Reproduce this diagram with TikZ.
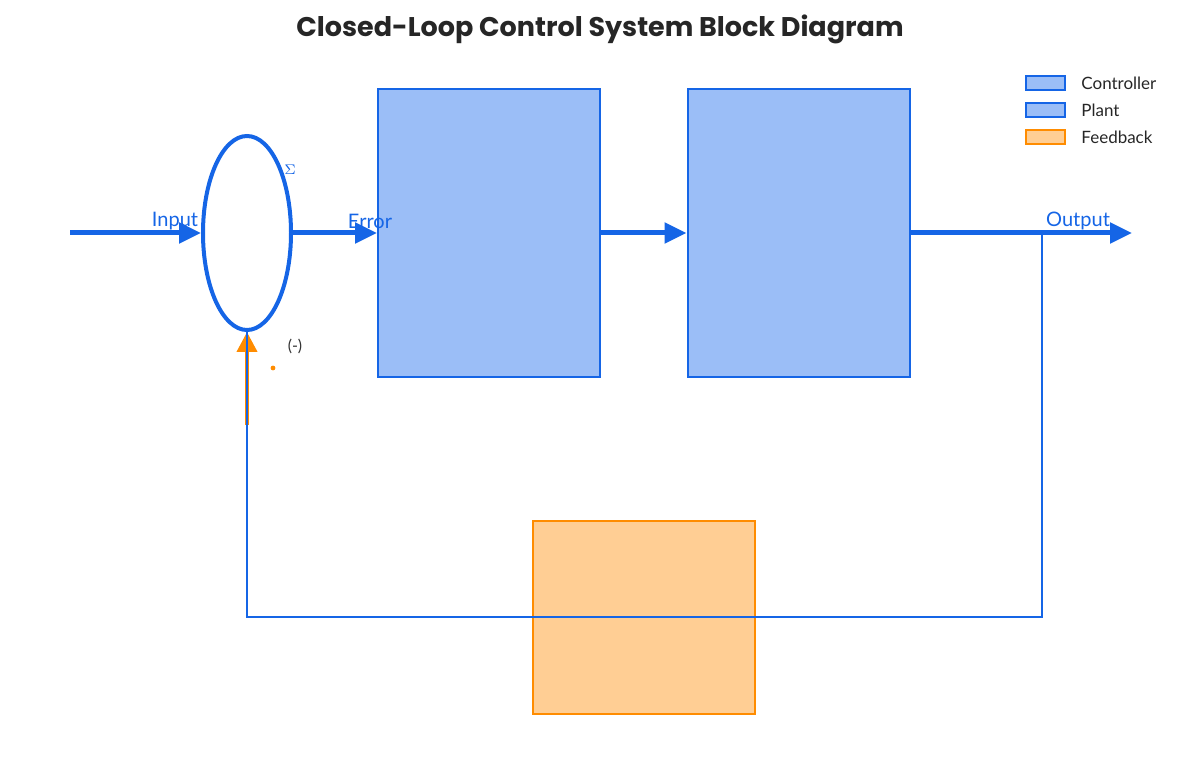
\documentclass[tikz,border=0pt]{standalone}
\usepackage{fontspec}
\setmainfont{Lato}
\newfontfamily\titlefont{Poppins}
\usetikzlibrary{arrows.meta,positioning,shapes.geometric}
\definecolor{lineblue}{HTML}{1565E6}
\definecolor{boxblue}{HTML}{9BBEF7}
\definecolor{fborange}{HTML}{FF8C00}
\definecolor{fbfill}{HTML}{FFCE94}
\tikzset{
  block/.style={draw=lineblue, line width=1pt, fill=boxblue, minimum width=111pt, minimum height=144pt, inner sep=0pt},
  fbblock/.style={block, draw=fborange, fill=fbfill, minimum height=96.5pt},
  signal/.style={draw=lineblue, line width=2.5pt, -{Triangle[length=11pt,width=10pt]}},
  lbl/.style={text=lineblue, font=\fontsize{10}{12}\selectfont, inner sep=0pt},
  swatch/.style={draw=lineblue, line width=1pt, fill=boxblue, minimum width=19.5pt, minimum height=7pt, inner sep=0pt},
  legtext/.style={font=\fontsize{8.5}{10}\selectfont, text=black!85, anchor=west, inner sep=0pt}
}
\begin{document}
\begin{tikzpicture}[x=0.5pt, y=-0.5pt]
    \useasboundingbox (0,0) rectangle (1200,763);
    \node[font=\titlefont\bfseries\fontsize{13.5}{16}\selectfont, text=black!85] (title) at (600,29) {Closed-Loop Control System Block Diagram};

    % Blocks
    \node[block] (ctrl) at (489,233) {};
    \node[block] (plant) at (798.5,233) {};
    \node[fbblock] (fb) at (643.5,617.5) {};

    % Summing junction
    \node[draw=lineblue, line width=2pt, ellipse, minimum width=44pt, minimum height=97pt, inner sep=0pt] (sum) at (247,233) {};
    \node[lbl, font=\fontsize{7}{8}\selectfont] (sigma) at (290,170) {$\Sigma$};
    \node[font=\fontsize{8}{10}\selectfont, text=black!80, inner sep=0pt] (minus) at (295,346) {(-)};
    \fill[fborange] (273,368) circle (1.2pt);

    % Forward path
    \coordinate (in) at (70,233);
    \coordinate (out) at (1132,233);
    \coordinate (tap) at (1042,233);
    \draw[signal] (in) -- (sum.west);
    \draw[signal] (sum.east) -- (ctrl.west);
    \draw[signal] (ctrl.east) -- (plant.west);
    \draw[signal] (plant.east) -- (out);
    \node[lbl] (inlbl) at (175,221) {Input};
    \node[lbl] (errlbl) at (370,221) {Error};
    \node[lbl] (outlbl) at (1078,221) {Output};

    % Feedback path
    \coordinate (fbtop) at (247,425);
    \coordinate (fbright) at (1042,617);
    \coordinate (fbleft) at (247,617);
    \draw[fborange, line width=2pt, -{Triangle[length=10pt,width=10pt]}] (fbtop) -- (sum.south);
    \draw[lineblue, line width=1.3pt] (tap) -- (fbright) -- (fbleft) -- (sum.south);

    % Legend
    \node[swatch] (lg1) at (1045.5,83) {};
    \node[swatch] (lg2) at (1045.5,110) {};
    \node[swatch, draw=fborange, fill=fbfill] (lg3) at (1045.5,137) {};
    \node[legtext] at (1081,83) {Controller};
    \node[legtext] at (1081,110) {Plant};
    \node[legtext] at (1081,137) {Feedback};
\end{tikzpicture}
\end{document}
